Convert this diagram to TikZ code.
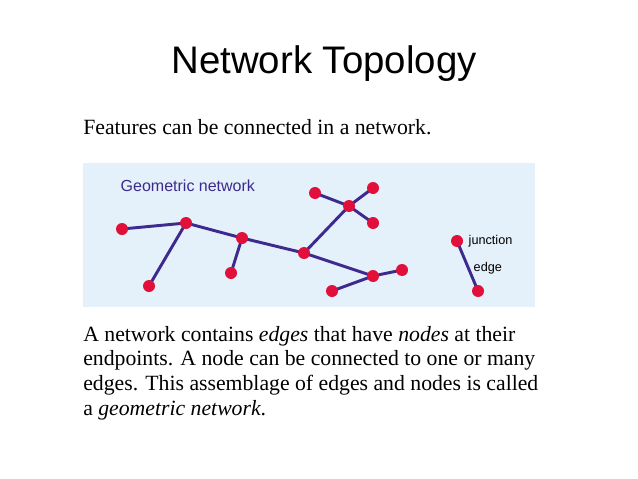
\documentclass[tikz,border=0pt]{standalone}
\usepackage{fontspec}
\setmainfont{Liberation Serif}
\newfontfamily\sans{Liberation Sans}
\definecolor{bgblue}{HTML}{E4F0FA}
\definecolor{edgec}{HTML}{3D2A8C}
\definecolor{nodec}{HTML}{E0103A}
\begin{document}
\begin{tikzpicture}[x=0.75pt,y=-0.75pt,
  jn/.style={circle,fill=nodec,inner sep=0pt,minimum size=9pt},
  ed/.style={draw=edgec,line width=2.2pt},
  body/.style={anchor=west,inner sep=0pt,font=\fontsize{16.3}{19}\selectfont}]
\useasboundingbox (0,0) rectangle (638,478);
\fill[bgblue] (83,163) rectangle (535,307);
\node[font=\sans\fontsize{28.8}{32}\selectfont] (title) at (324,64) {Network Topology};
\node[body] (t1) at (83,127) {Features can be connected in a network.};
\node[anchor=west,text=edgec,font=\sans\fontsize{12}{14}\selectfont] (gn) at (116,186) {Geometric network};
\node[body] (t2) at (83,336) {A network contains \textit{edges} that have \textit{nodes} at their};
\node[body] (t3) at (83,360) {endpoints. A node can be connected to one or many};
\node[body] (t4) at (83,385) {edges. This assemblage of edges and nodes is called};
\node[body] (t5) at (83,410) {a \textit{geometric network}.};
\foreach \n/\x/\y in {a/122/229,b/186/223,c/149/286,d/242/238,e/231/273,f/304/253,g/349/206,h/315/193,i/373/188,j/373/223,k/373/276,l/402/270,m/332/291,p/457/241,q/478/291}
  \coordinate (\n) at (\x,\y);
\foreach \u/\v in {a/b,b/c,b/d,d/e,d/f,f/g,g/h,g/i,g/j,f/k,k/l,k/m,p/q}
  \draw[ed] (\u) -- (\v);
\foreach \n in {a,b,c,d,e,f,g,h,i,j,k,l,m,p,q}
  \node[jn] at (\n) {};
\node[anchor=west,font=\sans\fontsize{9.5}{11}\selectfont] (jl) at (464,241) {junction};
\node[anchor=west,font=\sans\fontsize{9.5}{11}\selectfont] (el) at (469,268) {edge};
\end{tikzpicture}
\end{document}
